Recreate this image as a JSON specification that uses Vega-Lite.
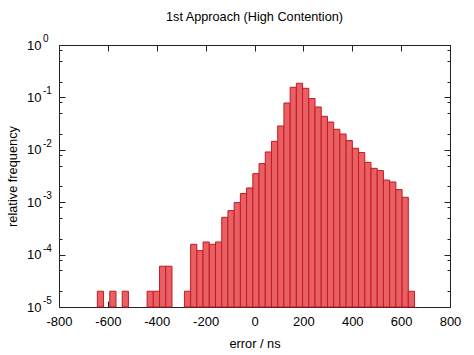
{
  "$schema": "https://vega.github.io/schema/vega-lite/v6.json",
  "width": 391,
  "height": 262,
  "autosize": {"type": "none"},
  "padding": {"left": 59, "top": 45, "right": 24, "bottom": 48},
  "title": {"text": "1st Approach (High Contention)", "font": "Liberation Sans", "fontSize": 12.7, "fontWeight": "normal", "color": "#000", "offset": 10},
  "config": {
    "view": {"stroke": "#222", "strokeWidth": 1},
    "font": "Liberation Sans",
    "axis": {"domain": false, "grid": false, "labelFont": "Liberation Sans", "labelFontSize": 13, "labelColor": "#000", "titleFont": "Liberation Sans", "titleFontSize": 12.8, "titleFontWeight": "normal", "titleColor": "#000", "tickColor": "#222", "tickWidth": 1, "labelFlush": false, "labelOverlap": false}
  },
  "data": {"values": [
    {"start": -643.1, "end": -617.7, "freq": 0.00002},
    {"start": -592.2, "end": -566.8, "freq": 0.00002},
    {"start": -541.3, "end": -515.9, "freq": 0.00002},
    {"start": -439.5, "end": -414.1, "freq": 0.00002},
    {"start": -414.1, "end": -388.6, "freq": 0.00002},
    {"start": -388.6, "end": -363.2, "freq": 0.00006},
    {"start": -363.2, "end": -337.7, "freq": 0.00006},
    {"start": -286.8, "end": -261.4, "freq": 0.00002},
    {"start": -261.4, "end": -235.9, "freq": 0.000157},
    {"start": -235.9, "end": -210.5, "freq": 0.000119},
    {"start": -210.5, "end": -185.0, "freq": 0.000174},
    {"start": -185.0, "end": -159.6, "freq": 0.000157},
    {"start": -159.6, "end": -134.1, "freq": 0.000174},
    {"start": -134.1, "end": -108.7, "freq": 0.000515},
    {"start": -108.7, "end": -83.2, "freq": 0.000692},
    {"start": -83.2, "end": -57.8, "freq": 0.000983},
    {"start": -57.8, "end": -32.3, "freq": 0.00146},
    {"start": -32.3, "end": -6.9, "freq": 0.00187},
    {"start": -6.9, "end": 18.6, "freq": 0.00351},
    {"start": 18.6, "end": 44.1, "freq": 0.00545},
    {"start": 44.1, "end": 69.5, "freq": 0.00909},
    {"start": 69.5, "end": 95.0, "freq": 0.0145},
    {"start": 95.0, "end": 120.4, "freq": 0.0285},
    {"start": 120.4, "end": 145.9, "freq": 0.0782},
    {"start": 145.9, "end": 171.3, "freq": 0.156},
    {"start": 171.3, "end": 196.8, "freq": 0.186},
    {"start": 196.8, "end": 222.2, "freq": 0.149},
    {"start": 222.2, "end": 247.7, "freq": 0.0949},
    {"start": 247.7, "end": 273.1, "freq": 0.0656},
    {"start": 273.1, "end": 298.6, "freq": 0.0436},
    {"start": 298.6, "end": 324.0, "freq": 0.0339},
    {"start": 324.0, "end": 349.5, "freq": 0.0246},
    {"start": 349.5, "end": 374.9, "freq": 0.0200},
    {"start": 374.9, "end": 400.4, "freq": 0.0150},
    {"start": 400.4, "end": 425.8, "freq": 0.0107},
    {"start": 425.8, "end": 451.3, "freq": 0.00885},
    {"start": 451.3, "end": 476.7, "freq": 0.00577},
    {"start": 476.7, "end": 502.2, "freq": 0.00443},
    {"start": 502.2, "end": 527.6, "freq": 0.00401},
    {"start": 527.6, "end": 553.1, "freq": 0.00265},
    {"start": 553.1, "end": 578.5, "freq": 0.00243},
    {"start": 578.5, "end": 604.0, "freq": 0.00174},
    {"start": 604.0, "end": 629.4, "freq": 0.00124},
    {"start": 629.4, "end": 654.9, "freq": 0.00002}
  ]},
  "layer": [
    {
      "mark": {"type": "bar", "fill": "#e8606400", "stroke": "#c41a22", "strokeWidth": 1},
      "encoding": {
        "x": {"field": "start", "type": "quantitative", "scale": {"domain": [-800, 800], "nice": false, "zero": false},
          "axis": {"orient": "bottom", "values": [-800, -600, -400, -200, 0, 200, 400, 600, 800], "labelExpr": "'' + datum.value", "tickSize": -6, "labelPadding": 14, "title": "error / ns", "titlePadding": 9}},
        "x2": {"field": "end"},
        "y": {"field": "freq", "type": "quantitative", "scale": {"type": "log", "domain": [0.00001, 1], "nice": false},
          "axis": {"orient": "left", "values": [0.00001, 0.00002, 0.00005, 0.00008, 0.0001, 0.0002, 0.0005, 0.0008, 0.001, 0.002, 0.005, 0.008, 0.01, 0.02, 0.05, 0.08, 0.1, 0.2, 0.5, 0.8, 1],
            "labelExpr": "abs(log(datum.value)/LN10 - round(log(datum.value)/LN10)) > 0.01 ? '' : '10'",
            "tickSize": {"condition": {"test": "abs(log(datum.value)/LN10 - round(log(datum.value)/LN10)) < 0.01", "value": -6}, "value": -3},
            "labelPadding": 24, "title": "relative frequency", "titlePadding": 7}},
        "y2": {"datum": 0.00001},
        "fill": {"value": "#e86064"}
      }
    },
    {
      "mark": {"type": "bar", "opacity": 0},
      "encoding": {
        "x": {"field": "start", "type": "quantitative", "scale": {"domain": [-800, 800], "nice": false, "zero": false},
          "axis": {"orient": "top", "values": [-800, -600, -400, -200, 0, 200, 400, 600, 800], "tickSize": -6, "labels": false, "title": null}},
        "x2": {"field": "end"},
        "y": {"field": "freq", "type": "quantitative", "scale": {"type": "log", "domain": [0.00001, 1], "nice": false},
          "axis": {"orient": "right", "values": [0.00001, 0.00002, 0.00005, 0.00008, 0.0001, 0.0002, 0.0005, 0.0008, 0.001, 0.002, 0.005, 0.008, 0.01, 0.02, 0.05, 0.08, 0.1, 0.2, 0.5, 0.8, 1],
            "tickSize": {"condition": {"test": "abs(log(datum.value)/LN10 - round(log(datum.value)/LN10)) < 0.01", "value": -6}, "value": -3},
            "labels": false, "title": null}},
        "y2": {"datum": 0.00001}
      }
    },
    {
      "data": {"values": [
        {"tick": 0.00001, "exp": "-5"},
        {"tick": 0.0001, "exp": "-4"},
        {"tick": 0.001, "exp": "-3"},
        {"tick": 0.01, "exp": "-2"},
        {"tick": 0.1, "exp": "-1"},
        {"tick": 1, "exp": "0"}
      ]},
      "mark": {"type": "text", "font": "Liberation Sans", "fontSize": 10, "align": "left", "baseline": "middle", "dx": -16, "dy": -6, "color": "#000"},
      "encoding": {
        "x": {"datum": -800, "type": "quantitative", "axis": null},
        "y": {"field": "tick", "type": "quantitative", "axis": null},
        "text": {"field": "exp"}
      }
    }
  ],
  "resolve": {"axis": {"x": "independent", "y": "independent"}}
}
